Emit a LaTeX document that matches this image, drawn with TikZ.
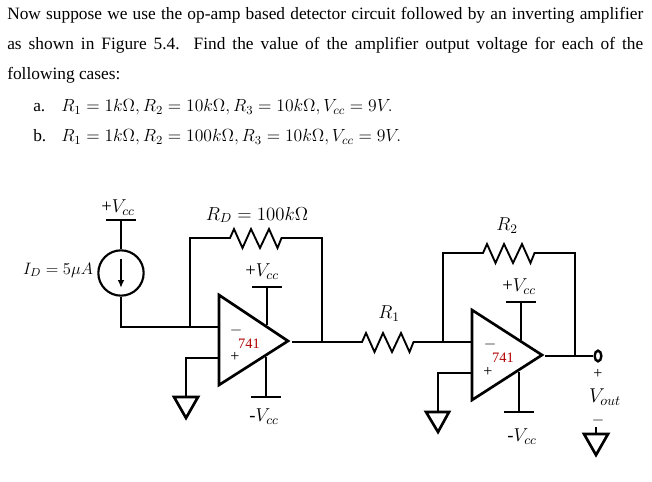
\RequirePackage{fix-cm}
\documentclass[tikz,border=0pt]{standalone}
\usepackage{fontspec}
\setmainfont{Liberation Serif}
\usetikzlibrary{arrows.meta,shapes.geometric}
\newcommand{\zigzag}{-- ++(4,-9) -- ++(8.5,19) -- ++(8.5,-19) -- ++(9,19) -- ++(9,-19) -- ++(8.5,19) -- ++(4,-10)}
\tikzset{
  wire/.style={line width=1.4pt,black,line join=miter},
  amp/.style={line width=2pt,black,line join=miter},
  txt/.style={inner sep=0pt,anchor=base west,font=\fontsize{13}{13}\selectfont},
  eqn/.style={inner sep=0pt,anchor=base west,font=\fontsize{13.2}{13}\selectfont},
  lab/.style={inner sep=0pt,anchor=center,font=\fontsize{14}{14}\selectfont},
  small/.style={inner sep=0pt,anchor=center,font=\fontsize{12}{12}\selectfont},
  chip/.style={inner sep=0pt,anchor=center,text=red!70!black,font=\fontsize{10.8}{12}\selectfont},
}
\begin{document}
\begin{tikzpicture}[x=0.75pt,y=-0.75pt]
\useasboundingbox (0,0) rectangle (652,481);
% text
\node[txt] (l1) at (7,20) {\makebox[477pt][s]{Now suppose we use the op-amp based detector circuit followed by an inverting amplifier}};
\node[txt] (l2) at (7,50) {\makebox[477pt][s]{as shown in Figure 5.4.\ \ Find the value of the amplifier output voltage for each of the}};
\node[txt] (l3) at (7,80) {following cases:};
\node[txt] (a) at (33,112) {a.};
\node[eqn] (ca) at (61,112) {$R_1=1k\Omega,R_2=10k\Omega,R_3=10k\Omega,V_{cc}=9V.$};
\node[txt] (b) at (33,142) {b.};
\node[eqn] (cb) at (61,142) {$R_1=1k\Omega,R_2=100k\Omega,R_3=10k\Omega,V_{cc}=9V.$};
% coordinates
\coordinate (vt) at (121,220);
\coordinate (cs) at (121,273);
\coordinate (n1) at (121,327);
\coordinate (j1) at (190,327);
\coordinate (in1) at (219,327);
\coordinate (a1t) at (219,295);
\coordinate (a1b) at (219,385);
\coordinate (a1o) at (288,341);
\coordinate (ip1) at (219,358);
\coordinate (g1) at (186,397);
\coordinate (fb1) at (190,238);
\coordinate (rd1) at (230,238);
\coordinate (fb2) at (322,238);
\coordinate (j2) at (322,342);
\coordinate (o1) at (292,342);
\coordinate (r1a) at (362,342);
\coordinate (j3) at (443,342);
\coordinate (in2) at (472,342);
\coordinate (a2t) at (472,310);
\coordinate (a2b) at (472,400);
\coordinate (a2o) at (542,355);
\coordinate (ip2) at (472,373);
\coordinate (g2) at (438,412);
\coordinate (fb3) at (443,253);
\coordinate (r2a) at (483,253);
\coordinate (fb4) at (575,253);
\coordinate (j4) at (575,356);
\coordinate (o2) at (545,356);
\coordinate (g3) at (596,434);
% source
\node[circle,draw,line width=1.6pt,minimum size=34pt,inner sep=0pt] (src) at (cs) {};
\draw[wire] (106,220) -- (136,220);
\draw[wire] (vt) -- (src.north);
\draw[wire,-{Latex[length=6pt,width=5pt]}] (121,259) -- (121,288);
\draw[wire] (src.south) -- (n1) -- (in1);
% amp 1
\draw[amp] (a1t) -- (a1o) -- (a1b) -- cycle;
\draw[wire] (j1) -- (fb1) -- (rd1) \zigzag -- (fb2) -- (j2);
\draw[wire] (o1) -- (j2) -- (r1a) \zigzag -- (in2);
\draw[wire] (ip1) -- (186,358) -- (g1);
\draw[amp] (174,397) -- (198,397) -- (186,418) -- cycle;
\draw[wire] (267,325) -- (267,287);
\draw[wire] (252,287) -- (282,287);
\draw[wire] (266,357) -- (266,397);
\draw[wire] (251,397) -- (281,397);
% amp 2
\draw[amp] (a2t) -- (a2o) -- (a2b) -- cycle;
\draw[wire] (j3) -- (fb3) -- (r2a) \zigzag -- (fb4) -- (j4);
\node[ellipse,draw,line width=1.8pt,minimum width=5pt,minimum height=8pt,inner sep=0pt] (term) at (598,356) {};
\draw[wire] (o2) -- (term.west);
\draw[wire] (ip2) -- (438,373) -- (g2);
\draw[amp] (426,412) -- (449,412) -- (438,432) -- cycle;
\draw[wire] (521,340) -- (521,302);
\draw[wire] (506,302) -- (536,302);
\draw[wire] (519,372) -- (519,412);
\draw[wire] (504,412) -- (534,412);
\draw[wire] (596,427) -- (g3);
\draw[amp] (584,434) -- (608,434) -- (596,455) -- cycle;
% labels
\node[lab] (tv) at (118,208) {+$V_{cc}$};
\node[lab,font=\fontsize{12.4}{13}\selectfont] (id) at (58,270) {$I_D=5\mu A$};
\node[lab,font=\fontsize{14.1}{14}\selectfont] (rd) at (257,215) {$R_D=100k\Omega$};
\node[lab] (v1) at (262,272) {+$V_{cc}$};
\node[lab] (v2) at (264,417) {-$V_{cc}$};
\node[small] (m1) at (236,330) {$-$};
\node[chip] (c1) at (249,344) {741};
\node[small] (p1) at (235,357) {+};
\node[lab] (r2) at (507,226) {$R_2$};
\node[lab] (r1) at (389,314) {$R_1$};
\node[lab] (v3) at (519,287) {+$V_{cc}$};
\node[lab] (v4) at (522,437) {-$V_{cc}$};
\node[small] (m2) at (490,344) {$-$};
\node[chip] (c2) at (503,358) {741};
\node[small] (p2) at (488,372) {+};
\node[small] (op) at (598,374) {+};
\node[lab,font=\fontsize{15}{15}\selectfont] (vo) at (605,397) {$V_{out}$};
\node[small] (om) at (598,420) {$-$};
\end{tikzpicture}
\end{document}
